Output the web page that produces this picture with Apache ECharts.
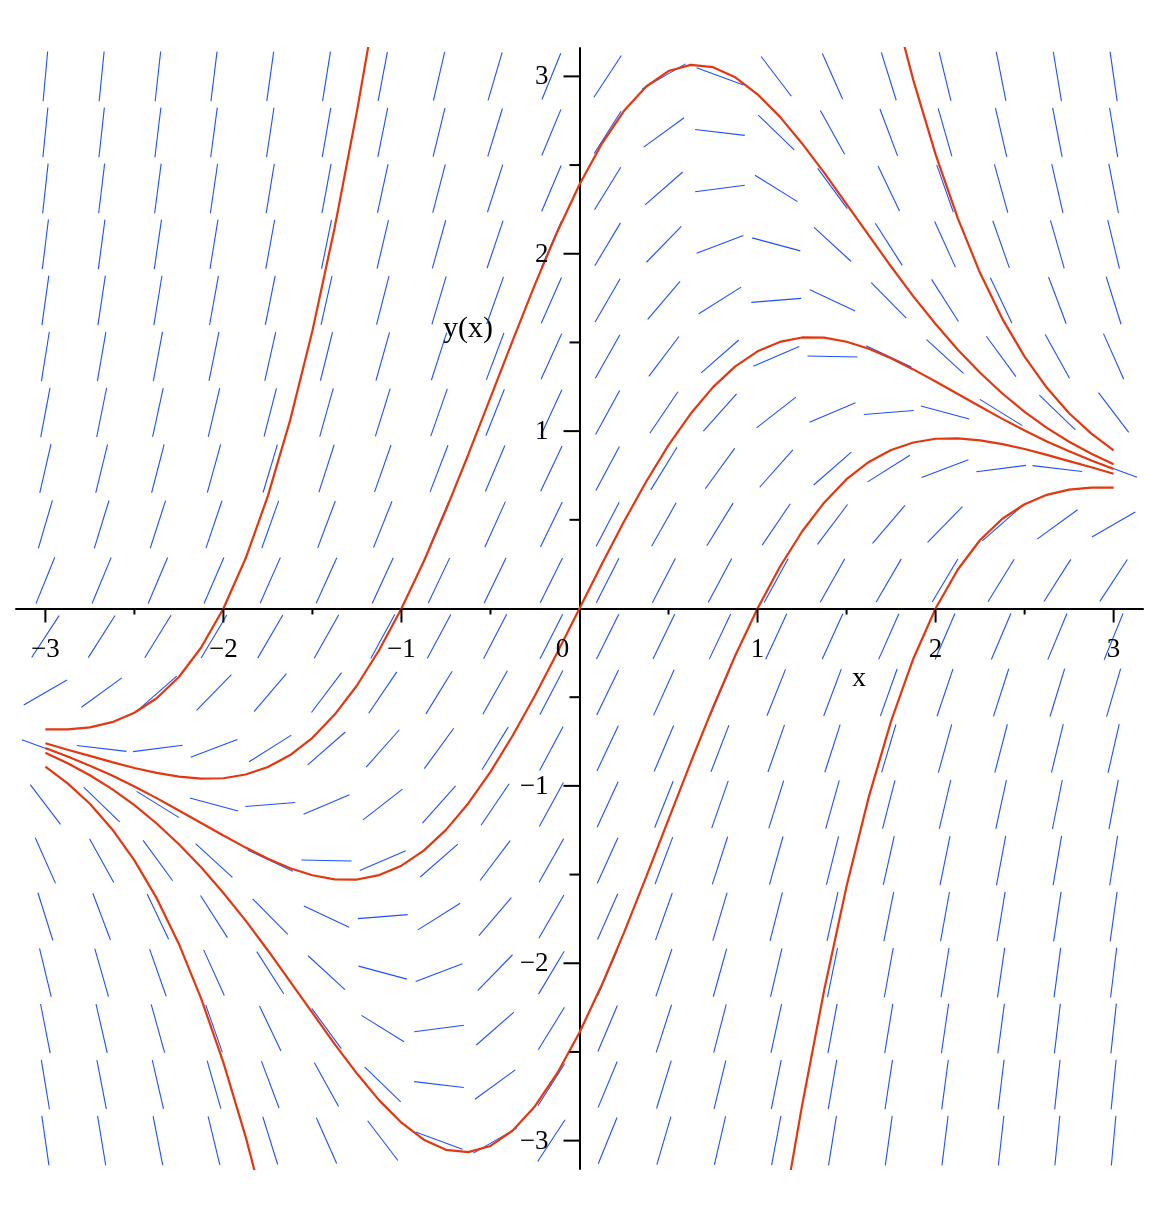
<!DOCTYPE html>
<html>
<head>
<meta charset="utf-8">
<script src="https://cdn.jsdelivr.net/npm/echarts@6/dist/echarts.min.js"></script>
<style>
html,body{margin:0;padding:0;background:#fff;}
#chart{width:1157px;height:1215px;}
</style>
</head>
<body>
<div id="chart"></div>
<script>
// ---- direction field grid (20 x 20) ----
const gridX = [-3, -2.684, -2.368, -2.053, -1.737, -1.421, -1.105, -0.789, -0.474, -0.158, 0.158, 0.474, 0.789, 1.105, 1.421, 1.737, 2.053, 2.368, 2.684, 3];
const gridY = [3, 2.684, 2.368, 2.053, 1.737, 1.421, 1.105, 0.789, 0.474, 0.158, -0.158, -0.474, -0.789, -1.105, -1.421, -1.737, -2.053, -2.368, -2.684, -3];
// slope dy/dx at each grid point, one row per gridY value, columns follow gridX
const slopeRows = [
  [11.00, 10.05, 9.11, 8.16, 7.21, 6.26, 5.32, 4.37, 3.42, 2.47, 1.53, 0.58, -0.37, -1.32, -2.26, -3.21, -4.16, -5.11, -6.05, -7.00],
  [10.05, 9.21, 8.36, 7.51, 6.66, 5.81, 4.97, 4.12, 3.27, 2.42, 1.58, 0.73, -0.12, -0.97, -1.81, -2.66, -3.51, -4.36, -5.21, -6.05],
  [9.11, 8.36, 7.61, 6.86, 6.11, 5.37, 4.62, 3.87, 3.12, 2.37, 1.63, 0.88, 0.13, -0.62, -1.37, -2.11, -2.86, -3.61, -4.36, -5.11],
  [8.16, 7.51, 6.86, 6.21, 5.57, 4.92, 4.27, 3.62, 2.97, 2.32, 1.68, 1.03, 0.38, -0.27, -0.92, -1.57, -2.21, -2.86, -3.51, -4.16],
  [7.21, 6.66, 6.11, 5.57, 5.02, 4.47, 3.92, 3.37, 2.82, 2.27, 1.73, 1.18, 0.63, 0.08, -0.47, -1.02, -1.57, -2.11, -2.66, -3.21],
  [6.26, 5.81, 5.37, 4.92, 4.47, 4.02, 3.57, 3.12, 2.67, 2.22, 1.78, 1.33, 0.88, 0.43, -0.02, -0.47, -0.92, -1.37, -1.81, -2.26],
  [5.32, 4.97, 4.62, 4.27, 3.92, 3.57, 3.22, 2.87, 2.52, 2.17, 1.83, 1.48, 1.13, 0.78, 0.43, 0.08, -0.27, -0.62, -0.97, -1.32],
  [4.37, 4.12, 3.87, 3.62, 3.37, 3.12, 2.87, 2.62, 2.37, 2.12, 1.88, 1.63, 1.38, 1.13, 0.88, 0.63, 0.38, 0.13, -0.12, -0.37],
  [3.42, 3.27, 3.12, 2.97, 2.82, 2.67, 2.52, 2.37, 2.22, 2.07, 1.93, 1.78, 1.63, 1.48, 1.33, 1.18, 1.03, 0.88, 0.73, 0.58],
  [2.47, 2.42, 2.37, 2.32, 2.27, 2.22, 2.17, 2.12, 2.07, 2.02, 1.98, 1.93, 1.88, 1.83, 1.78, 1.73, 1.68, 1.63, 1.58, 1.53],
  [1.53, 1.58, 1.63, 1.68, 1.73, 1.78, 1.83, 1.88, 1.93, 1.98, 2.02, 2.07, 2.12, 2.17, 2.22, 2.27, 2.32, 2.37, 2.42, 2.47],
  [0.58, 0.73, 0.88, 1.03, 1.18, 1.33, 1.48, 1.63, 1.78, 1.93, 2.07, 2.22, 2.37, 2.52, 2.67, 2.82, 2.97, 3.12, 3.27, 3.42],
  [-0.37, -0.12, 0.13, 0.38, 0.63, 0.88, 1.13, 1.38, 1.63, 1.88, 2.12, 2.37, 2.62, 2.87, 3.12, 3.37, 3.62, 3.87, 4.12, 4.37],
  [-1.32, -0.97, -0.62, -0.27, 0.08, 0.43, 0.78, 1.13, 1.48, 1.83, 2.17, 2.52, 2.87, 3.22, 3.57, 3.92, 4.27, 4.62, 4.97, 5.32],
  [-2.26, -1.81, -1.37, -0.92, -0.47, -0.02, 0.43, 0.88, 1.33, 1.78, 2.22, 2.67, 3.12, 3.57, 4.02, 4.47, 4.92, 5.37, 5.81, 6.26],
  [-3.21, -2.66, -2.11, -1.57, -1.02, -0.47, 0.08, 0.63, 1.18, 1.73, 2.27, 2.82, 3.37, 3.92, 4.47, 5.02, 5.57, 6.11, 6.66, 7.21],
  [-4.16, -3.51, -2.86, -2.21, -1.57, -0.92, -0.27, 0.38, 1.03, 1.68, 2.32, 2.97, 3.62, 4.27, 4.92, 5.57, 6.21, 6.86, 7.51, 8.16],
  [-5.11, -4.36, -3.61, -2.86, -2.11, -1.37, -0.62, 0.13, 0.88, 1.63, 2.37, 3.12, 3.87, 4.62, 5.37, 6.11, 6.86, 7.61, 8.36, 9.11],
  [-6.05, -5.21, -4.36, -3.51, -2.66, -1.81, -0.97, -0.12, 0.73, 1.58, 2.42, 3.27, 4.12, 4.97, 5.81, 6.66, 7.51, 8.36, 9.21, 10.05],
  [-7.00, -6.05, -5.11, -4.16, -3.21, -2.26, -1.32, -0.37, 0.58, 1.53, 2.47, 3.42, 4.37, 5.32, 6.26, 7.21, 8.16, 9.11, 10.05, 11.00]
];

// ---- solution curves, sampled at curveX ----
const curveX = [-3, -2.875, -2.75, -2.625, -2.5, -2.375, -2.25, -2.125, -2, -1.875, -1.75, -1.625, -1.5, -1.375, -1.25, -1.125, -1, -0.875, -0.75, -0.625, -0.5, -0.375, -0.25, -0.125, 0, 0.125, 0.25, 0.375, 0.5, 0.625, 0.75, 0.875, 1, 1.125, 1.25, 1.375, 1.5, 1.625, 1.75, 1.875, 2, 2.125, 2.25, 2.375, 2.5, 2.625, 2.75, 2.875, 3];
// through (-2,0): leaves the top, comes back in at the right
const curveA = [-0.682, -0.682, -0.670, -0.641, -0.588, -0.506, -0.386, -0.220, 0, 0.283, 0.635, 1.062, 1.566, 2.148, 2.803, 3.521,
  null, null, null, null, null, null, null, null, null, null, null, null, null, null, null, null, null, null, null, null, null, null,
  3.457, 2.979, 2.560, 2.199, 1.891, 1.633, 1.420, 1.244, 1.101, 0.986, 0.892];
// through (-1,0)
const curveB = [-0.760, -0.796, -0.831, -0.866, -0.899, -0.927, -0.948, -0.959, -0.957, -0.936, -0.894, -0.826, -0.729, -0.598, -0.434, -0.234, 0, 0.265, 0.556, 0.867, 1.189, 1.512, 1.827, 2.123, 2.390, 2.620, 2.806, 2.943, 3.030, 3.065, 3.052, 2.995, 2.899, 2.773, 2.622, 2.456, 2.280, 2.103, 1.928, 1.760, 1.604, 1.459, 1.329, 1.212, 1.109, 1.018, 0.940, 0.872, 0.813];
// through (0,0)
const curveC = [-0.787, -0.834, -0.886, -0.942, -1.004, -1.069, -1.139, -1.209, -1.280, -1.348, -1.411, -1.464, -1.504, -1.527, -1.528, -1.503, -1.450, -1.365, -1.248, -1.099, -0.921, -0.716, -0.490, -0.249, 0, 0.249, 0.490, 0.716, 0.921, 1.099, 1.248, 1.365, 1.450, 1.503, 1.528, 1.527, 1.504, 1.464, 1.411, 1.348, 1.280, 1.209, 1.139, 1.069, 1.004, 0.942, 0.886, 0.834, 0.787];
// through (1,0)
const curveD = [-0.813, -0.872, -0.940, -1.018, -1.109, -1.212, -1.329, -1.459, -1.604, -1.760, -1.928, -2.103, -2.280, -2.456, -2.622, -2.773, -2.899, -2.995, -3.052, -3.065, -3.030, -2.943, -2.806, -2.620, -2.390, -2.123, -1.827, -1.512, -1.189, -0.867, -0.556, -0.265, 0, 0.234, 0.434, 0.598, 0.729, 0.826, 0.894, 0.936, 0.957, 0.959, 0.948, 0.927, 0.899, 0.866, 0.831, 0.796, 0.760];
// through (2,0): leaves the bottom on the left, comes back in the middle
const curveE = [-0.892, -0.986, -1.101, -1.244, -1.420, -1.633, -1.891, -2.199, -2.560, -2.979, -3.457,
  null, null, null, null, null, null, null, null, null, null, null, null, null, null, null, null, null, null, null, null, null, null,
  -3.521, -2.803, -2.148, -1.566, -1.062, -0.635, -0.283, 0, 0.220, 0.386, 0.506, 0.588, 0.641, 0.670, 0.682, 0.682];
const curves = [curveA, curveB, curveC, curveD, curveE];

// ---- axes ticks / labels ----
const xLabels = [-3, -2, -1, 0, 1, 2, 3];
const yLabels = [-3, -2, -1, 1, 2, 3];
const xMajorTicks = [-3, -2, -1, 1, 2, 3];
const xMinorTicks = [-2.5, -1.5, -0.5, 0.5, 1.5, 2.5];
const yMajorTicks = [-3, -2, -1, 1, 2, 3];
const yMinorTicks = [-2.5, -1.5, -0.5, 0.5, 1.5, 2.5];

const BLUE = '#1f50ff';
const RED = '#e4370f';
const FONT = '"Liberation Serif", "DejaVu Serif", serif';

const fieldData = [];
gridY.forEach((y, j) => gridX.forEach((x, i) => fieldData.push([x, y, slopeRows[j][i]])));

const tickData = [];
xMajorTicks.forEach(v => tickData.push([v, 0, 0]));
xMinorTicks.forEach(v => tickData.push([v, 0, 1]));
yMajorTicks.forEach(v => tickData.push([0, v, 2]));
yMinorTicks.forEach(v => tickData.push([0, v, 3]));

const labelData = [];
xLabels.forEach(v => labelData.push([v, 0, 0]));
yLabels.forEach(v => labelData.push([0, v, 1]));

const minus = v => String(v).replace('-', '\u2212');

const chart = echarts.init(document.getElementById('chart'), null, {renderer: 'canvas'});
const series = [
  {
    type: 'custom',
    data: fieldData,
    silent: true,
    clip: false,
    z: 2,
    renderItem: function (params, api) {
      const c = api.coord([api.value(0), api.value(1)]);
      const s = api.size([1, 1]);
      let dx = s[0], dy = -api.value(2) * s[1];
      const L = Math.sqrt(dx * dx + dy * dy);
      dx = dx / L * 25; dy = dy / L * 25;
      return {type: 'line', shape: {x1: c[0] - dx, y1: c[1] - dy, x2: c[0] + dx, y2: c[1] + dy},
        style: {stroke: BLUE, lineWidth: 1.1}};
    }
  },
  {
    type: 'custom',
    data: tickData,
    silent: true,
    clip: false,
    z: 6,
    renderItem: function (params, api) {
      const c = api.coord([api.value(0), api.value(1)]);
      const k = api.value(2);
      let shape;
      if (k === 0) shape = {x1: c[0], y1: c[1], x2: c[0], y2: c[1] + 14};
      else if (k === 1) shape = {x1: c[0], y1: c[1], x2: c[0], y2: c[1] + 6};
      else if (k === 2) shape = {x1: c[0] - 16, y1: c[1], x2: c[0], y2: c[1]};
      else shape = {x1: c[0] - 10, y1: c[1], x2: c[0], y2: c[1]};
      return {type: 'line', shape: shape, style: {stroke: '#000', lineWidth: 2}};
    }
  },
  {
    type: 'custom',
    data: labelData,
    silent: true,
    clip: false,
    z: 6,
    renderItem: function (params, api) {
      const v0 = api.value(0), v1 = api.value(1), k = api.value(2);
      const c = api.coord([v0, v1]);
      if (k === 0) {
        const val = v0;
        return {type: 'text', x: c[0] + (val === 0 ? -17 : 0), y: c[1] + 41,
          style: {text: minus(val), font: '27px ' + FONT, fill: '#000',
            align: 'center', verticalAlign: 'middle', textAlign: 'center', textVerticalAlign: 'middle'}};
      }
      return {type: 'text', x: c[0] - 31, y: c[1] + 1,
        style: {text: minus(v1), font: '27px ' + FONT, fill: '#000',
          align: 'right', verticalAlign: 'middle', textAlign: 'right', textVerticalAlign: 'middle'}};
    }
  }
];
curves.forEach(arr => {
  series.push({
    type: 'line',
    data: curveX.map((x, i) => [x, arr[i] === null ? '-' : arr[i]]),
    showSymbol: false,
    symbol: 'none',
    clip: true,
    silent: true,
    z: 4,
    lineStyle: {color: RED, width: 2.2},
    connectNulls: false
  });
});

chart.setOption({
  animation: false,
  backgroundColor: '#fff',
  grid: {left: 16, top: 48, width: 1127, height: 1121, containLabel: false, outerBoundsMode: 'none'},
  xAxis: {
    type: 'value', min: -3.165, max: 3.165,
    axisLine: {onZero: true, lineStyle: {color: '#000', width: 2}},
    axisTick: {show: false},
    splitLine: {show: false},
    axisLabel: {show: false}
  },
  yAxis: {
    type: 'value', min: -3.16, max: 3.16,
    axisLine: {onZero: true, lineStyle: {color: '#000', width: 2}},
    axisTick: {show: false},
    splitLine: {show: false},
    axisLabel: {show: false}
  },
  graphic: [
    {type: 'text', left: 443, top: 314, style: {text: 'y(x)', font: '30px ' + FONT, fill: '#000'}},
    {type: 'text', left: 852, top: 665, style: {text: 'x', font: '28px ' + FONT, fill: '#000'}}
  ],
  series: series
});
</script>
</body>
</html>
